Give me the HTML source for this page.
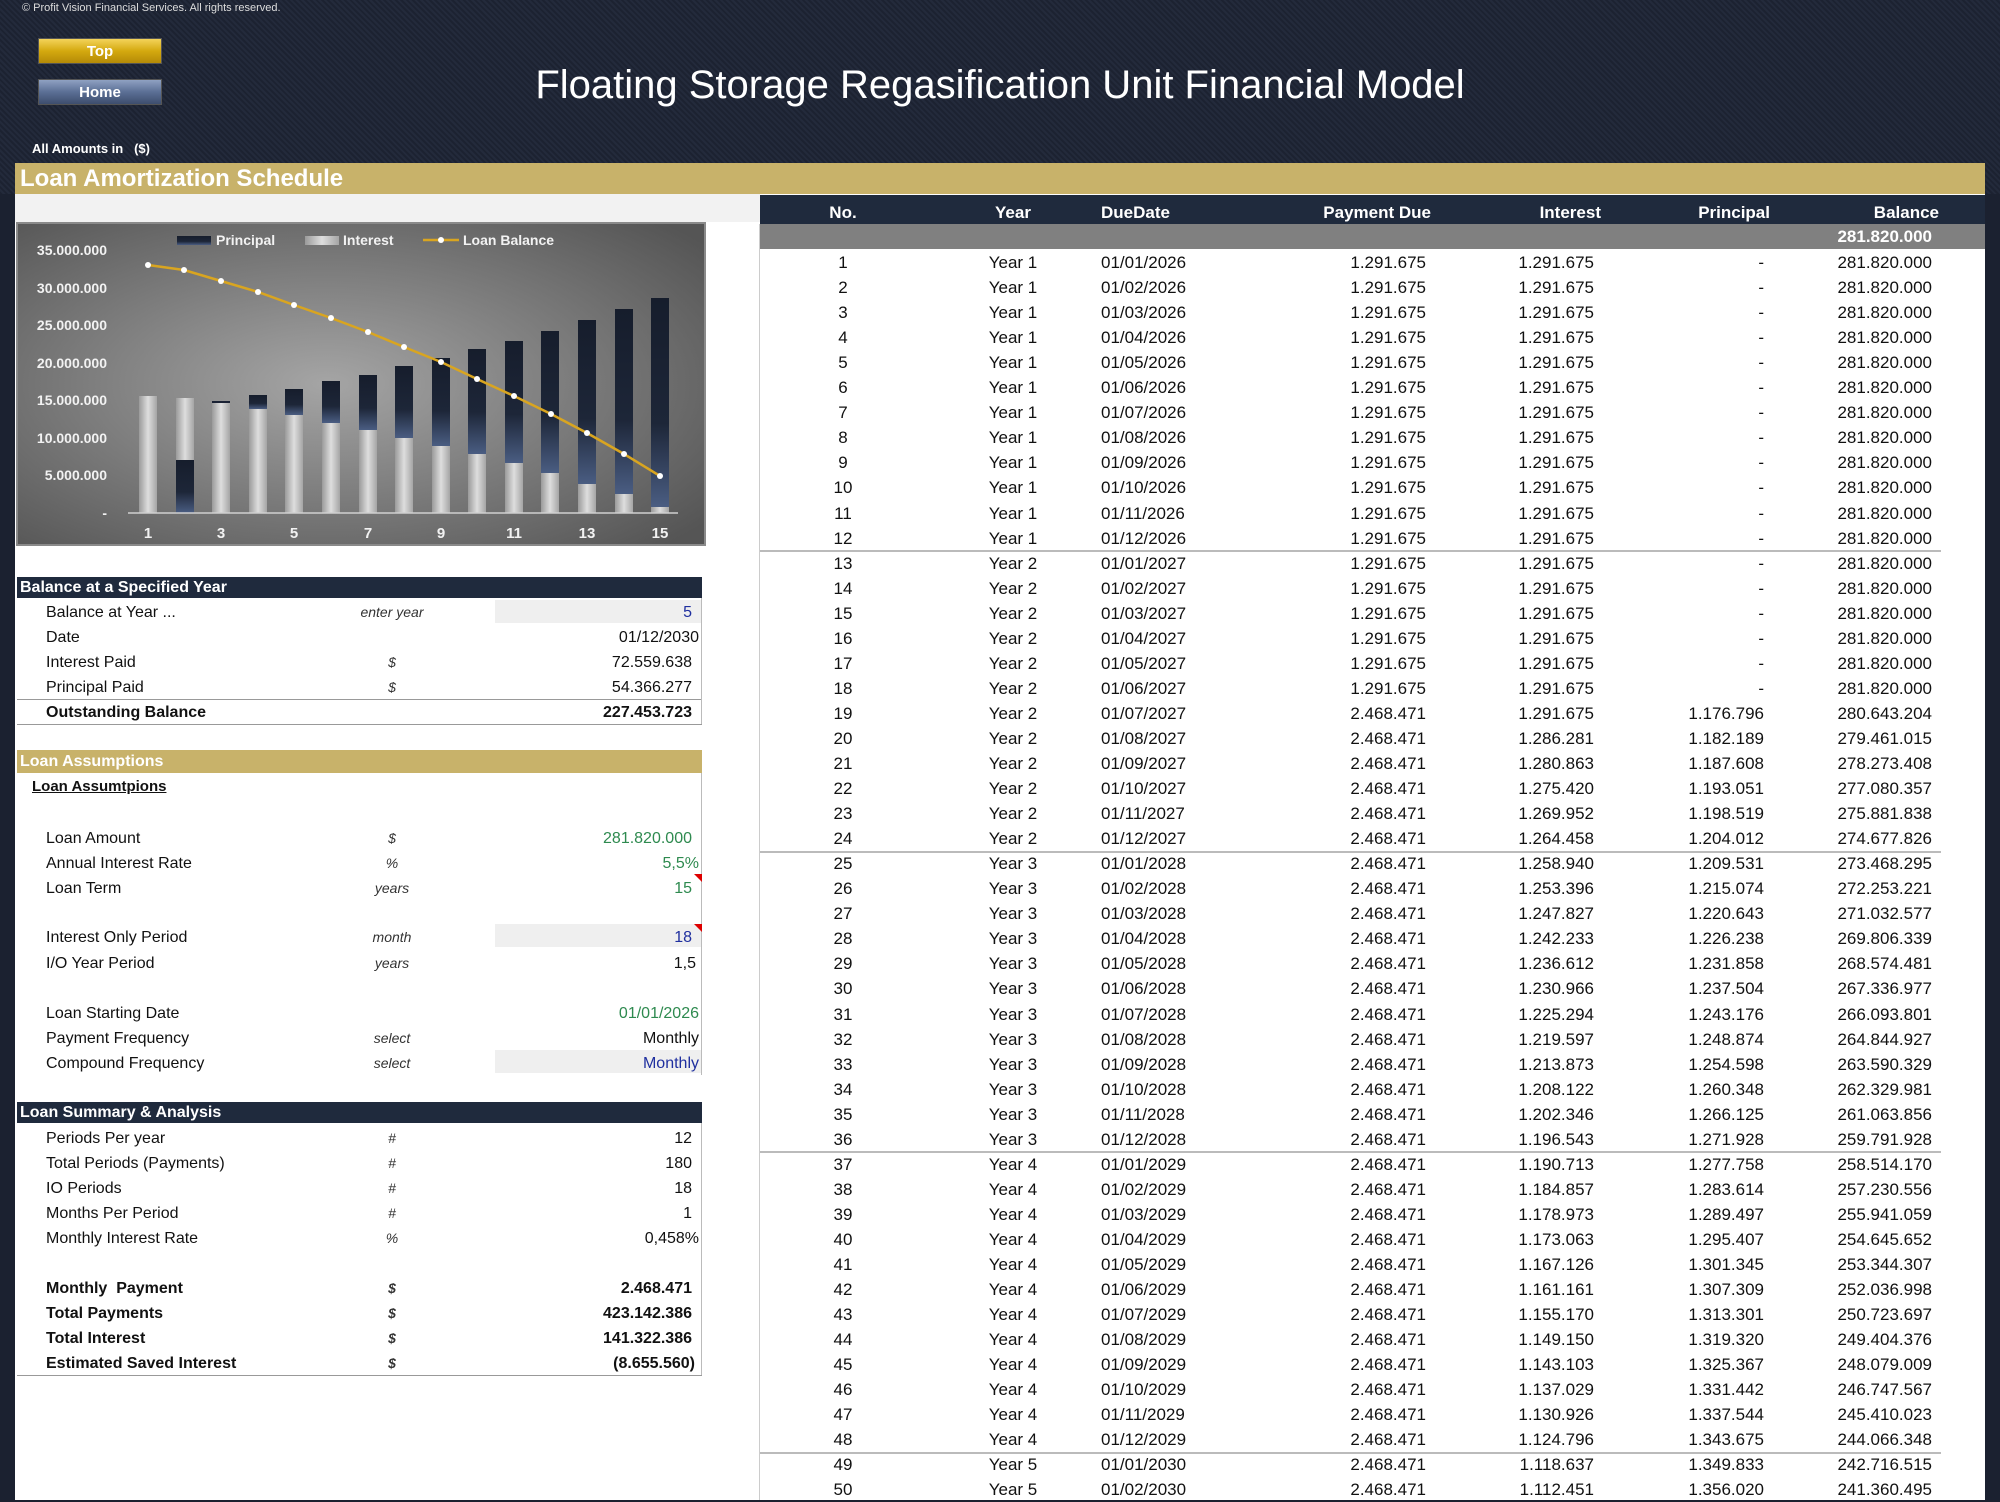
<!DOCTYPE html>
<html><head><meta charset="utf-8">
<style>
*{margin:0;padding:0;box-sizing:border-box}
body{width:2000px;height:1500px;position:relative;overflow:hidden;background:#1b2130;font-family:"Liberation Sans",sans-serif;}
.a{position:absolute;white-space:nowrap}
#bg{position:absolute;left:0;top:0;width:2000px;height:194px;background:repeating-linear-gradient(45deg,#1c2231 0 2px,#232a3b 2px 4px)}
.btn{position:absolute;left:38px;width:124px;height:26px;font-weight:bold;font-size:15px;color:#fff;text-align:center;line-height:26px;border:1px solid #555}
#white{position:absolute;left:15px;top:194px;width:1970px;height:1306px;background:#fff}
.row{position:absolute;left:760px;width:1180px;height:25.05px;font-size:17px;color:#111;line-height:25px}
.row span{position:absolute;top:0}
.n{left:43px;width:80px;text-align:center}
.y{left:203px;width:100px;text-align:center}
.d{left:341px}
.p{left:500px;width:166px;text-align:right}
.i{left:700px;width:134px;text-align:right}
.q{left:860px;width:144px;text-align:right}
.b{left:1020px;width:152px;text-align:right}
.sep{position:absolute;left:760px;width:1181px;height:2px;background:#bbb}
.lr{position:absolute;left:17px;width:685px;height:25px;font-size:16px;line-height:25px;color:#111}
.lr span{position:absolute;top:0}
.lb{left:29px}
.lm{left:330px;width:90px;text-align:center;font-style:italic;font-size:14px;color:#333}
.lv{right:10px;text-align:right}
.hd{position:absolute;left:17px;width:685px;font-size:16px;font-weight:bold;color:#fff;padding-left:3px}
.inp{position:absolute;left:495px;width:207px;height:23px;background:#efefef}
</style></head><body>
<div id="bg"></div>
<div class="a" style="left:22px;top:2px;font-size:11px;color:#ddd">© Profit Vision Financial Services. All rights reserved.</div>
<div class="btn" style="top:38px;background:linear-gradient(#f3d35a,#d4a90f 50%,#b48a07);color:#fff">Top</div>
<div class="btn" style="top:79px;background:linear-gradient(#8fa1c2,#5b6f95 50%,#3d4d6d);">Home</div>
<div class="a" style="left:0;width:2000px;top:63px;text-align:center;font-size:40px;color:#fff">Floating Storage Regasification Unit Financial Model</div>
<div class="a" style="left:32px;top:141px;font-size:13px;font-weight:bold;color:#fff">All Amounts in &nbsp;&nbsp;($)</div>
<div id="white"></div>
<div class="a" style="left:15px;top:163px;width:1970px;height:31px;background:#c8b26a;color:#fff;font-weight:bold;font-size:24px;line-height:31px;padding-left:5px">Loan Amortization Schedule</div>
<div class="a" style="left:15px;top:194px;width:745px;height:28px;background:#f2f2f2"></div>
<div class="a" style="left:760px;top:195px;width:1225px;height:29px;background:#1f2a3d"></div>
<div class="a" style="left:760px;top:224px;width:1225px;height:25px;background:#808080"></div>
<div class="a" style="left:759px;top:224px;width:1px;height:1276px;background:#ccc"></div>
<div class="row" style="top:200px;color:#fff;font-weight:bold"><span class="n">No.</span><span class="y">Year</span><span class="d">DueDate</span><span class="p" style="width:171px">Payment Due</span><span class="i" style="width:141px">Interest</span><span class="q" style="width:150px">Principal</span><span class="b" style="width:159px">Balance</span></div>
<div class="row" style="top:224px;color:#fff;font-weight:bold"><span class="b">281.820.000</span></div>

<div style="position:absolute;left:0;top:250px">
<div class="row" style="top:0px"><span class="n">1</span><span class="y">Year 1</span><span class="d">01/01/2026</span><span class="p">1.291.675</span><span class="i">1.291.675</span><span class="q">-</span><span class="b">281.820.000</span></div>
<div class="row" style="top:25.05px"><span class="n">2</span><span class="y">Year 1</span><span class="d">01/02/2026</span><span class="p">1.291.675</span><span class="i">1.291.675</span><span class="q">-</span><span class="b">281.820.000</span></div>
<div class="row" style="top:50.1px"><span class="n">3</span><span class="y">Year 1</span><span class="d">01/03/2026</span><span class="p">1.291.675</span><span class="i">1.291.675</span><span class="q">-</span><span class="b">281.820.000</span></div>
<div class="row" style="top:75.15px"><span class="n">4</span><span class="y">Year 1</span><span class="d">01/04/2026</span><span class="p">1.291.675</span><span class="i">1.291.675</span><span class="q">-</span><span class="b">281.820.000</span></div>
<div class="row" style="top:100.2px"><span class="n">5</span><span class="y">Year 1</span><span class="d">01/05/2026</span><span class="p">1.291.675</span><span class="i">1.291.675</span><span class="q">-</span><span class="b">281.820.000</span></div>
<div class="row" style="top:125.25px"><span class="n">6</span><span class="y">Year 1</span><span class="d">01/06/2026</span><span class="p">1.291.675</span><span class="i">1.291.675</span><span class="q">-</span><span class="b">281.820.000</span></div>
<div class="row" style="top:150.3px"><span class="n">7</span><span class="y">Year 1</span><span class="d">01/07/2026</span><span class="p">1.291.675</span><span class="i">1.291.675</span><span class="q">-</span><span class="b">281.820.000</span></div>
<div class="row" style="top:175.35px"><span class="n">8</span><span class="y">Year 1</span><span class="d">01/08/2026</span><span class="p">1.291.675</span><span class="i">1.291.675</span><span class="q">-</span><span class="b">281.820.000</span></div>
<div class="row" style="top:200.4px"><span class="n">9</span><span class="y">Year 1</span><span class="d">01/09/2026</span><span class="p">1.291.675</span><span class="i">1.291.675</span><span class="q">-</span><span class="b">281.820.000</span></div>
<div class="row" style="top:225.45px"><span class="n">10</span><span class="y">Year 1</span><span class="d">01/10/2026</span><span class="p">1.291.675</span><span class="i">1.291.675</span><span class="q">-</span><span class="b">281.820.000</span></div>
<div class="row" style="top:250.5px"><span class="n">11</span><span class="y">Year 1</span><span class="d">01/11/2026</span><span class="p">1.291.675</span><span class="i">1.291.675</span><span class="q">-</span><span class="b">281.820.000</span></div>
<div class="row" style="top:275.55px"><span class="n">12</span><span class="y">Year 1</span><span class="d">01/12/2026</span><span class="p">1.291.675</span><span class="i">1.291.675</span><span class="q">-</span><span class="b">281.820.000</span></div>
<div class="sep" style="top:300px"></div>
<div class="row" style="top:300.6px"><span class="n">13</span><span class="y">Year 2</span><span class="d">01/01/2027</span><span class="p">1.291.675</span><span class="i">1.291.675</span><span class="q">-</span><span class="b">281.820.000</span></div>
<div class="row" style="top:325.65px"><span class="n">14</span><span class="y">Year 2</span><span class="d">01/02/2027</span><span class="p">1.291.675</span><span class="i">1.291.675</span><span class="q">-</span><span class="b">281.820.000</span></div>
<div class="row" style="top:350.7px"><span class="n">15</span><span class="y">Year 2</span><span class="d">01/03/2027</span><span class="p">1.291.675</span><span class="i">1.291.675</span><span class="q">-</span><span class="b">281.820.000</span></div>
<div class="row" style="top:375.75px"><span class="n">16</span><span class="y">Year 2</span><span class="d">01/04/2027</span><span class="p">1.291.675</span><span class="i">1.291.675</span><span class="q">-</span><span class="b">281.820.000</span></div>
<div class="row" style="top:400.8px"><span class="n">17</span><span class="y">Year 2</span><span class="d">01/05/2027</span><span class="p">1.291.675</span><span class="i">1.291.675</span><span class="q">-</span><span class="b">281.820.000</span></div>
<div class="row" style="top:425.85px"><span class="n">18</span><span class="y">Year 2</span><span class="d">01/06/2027</span><span class="p">1.291.675</span><span class="i">1.291.675</span><span class="q">-</span><span class="b">281.820.000</span></div>
<div class="row" style="top:450.9px"><span class="n">19</span><span class="y">Year 2</span><span class="d">01/07/2027</span><span class="p">2.468.471</span><span class="i">1.291.675</span><span class="q">1.176.796</span><span class="b">280.643.204</span></div>
<div class="row" style="top:475.95px"><span class="n">20</span><span class="y">Year 2</span><span class="d">01/08/2027</span><span class="p">2.468.471</span><span class="i">1.286.281</span><span class="q">1.182.189</span><span class="b">279.461.015</span></div>
<div class="row" style="top:501px"><span class="n">21</span><span class="y">Year 2</span><span class="d">01/09/2027</span><span class="p">2.468.471</span><span class="i">1.280.863</span><span class="q">1.187.608</span><span class="b">278.273.408</span></div>
<div class="row" style="top:526.05px"><span class="n">22</span><span class="y">Year 2</span><span class="d">01/10/2027</span><span class="p">2.468.471</span><span class="i">1.275.420</span><span class="q">1.193.051</span><span class="b">277.080.357</span></div>
<div class="row" style="top:551.1px"><span class="n">23</span><span class="y">Year 2</span><span class="d">01/11/2027</span><span class="p">2.468.471</span><span class="i">1.269.952</span><span class="q">1.198.519</span><span class="b">275.881.838</span></div>
<div class="row" style="top:576.15px"><span class="n">24</span><span class="y">Year 2</span><span class="d">01/12/2027</span><span class="p">2.468.471</span><span class="i">1.264.458</span><span class="q">1.204.012</span><span class="b">274.677.826</span></div>
<div class="sep" style="top:600.6px"></div>
<div class="row" style="top:601.2px"><span class="n">25</span><span class="y">Year 3</span><span class="d">01/01/2028</span><span class="p">2.468.471</span><span class="i">1.258.940</span><span class="q">1.209.531</span><span class="b">273.468.295</span></div>
<div class="row" style="top:626.25px"><span class="n">26</span><span class="y">Year 3</span><span class="d">01/02/2028</span><span class="p">2.468.471</span><span class="i">1.253.396</span><span class="q">1.215.074</span><span class="b">272.253.221</span></div>
<div class="row" style="top:651.3px"><span class="n">27</span><span class="y">Year 3</span><span class="d">01/03/2028</span><span class="p">2.468.471</span><span class="i">1.247.827</span><span class="q">1.220.643</span><span class="b">271.032.577</span></div>
<div class="row" style="top:676.35px"><span class="n">28</span><span class="y">Year 3</span><span class="d">01/04/2028</span><span class="p">2.468.471</span><span class="i">1.242.233</span><span class="q">1.226.238</span><span class="b">269.806.339</span></div>
<div class="row" style="top:701.4px"><span class="n">29</span><span class="y">Year 3</span><span class="d">01/05/2028</span><span class="p">2.468.471</span><span class="i">1.236.612</span><span class="q">1.231.858</span><span class="b">268.574.481</span></div>
<div class="row" style="top:726.45px"><span class="n">30</span><span class="y">Year 3</span><span class="d">01/06/2028</span><span class="p">2.468.471</span><span class="i">1.230.966</span><span class="q">1.237.504</span><span class="b">267.336.977</span></div>
<div class="row" style="top:751.5px"><span class="n">31</span><span class="y">Year 3</span><span class="d">01/07/2028</span><span class="p">2.468.471</span><span class="i">1.225.294</span><span class="q">1.243.176</span><span class="b">266.093.801</span></div>
<div class="row" style="top:776.55px"><span class="n">32</span><span class="y">Year 3</span><span class="d">01/08/2028</span><span class="p">2.468.471</span><span class="i">1.219.597</span><span class="q">1.248.874</span><span class="b">264.844.927</span></div>
<div class="row" style="top:801.6px"><span class="n">33</span><span class="y">Year 3</span><span class="d">01/09/2028</span><span class="p">2.468.471</span><span class="i">1.213.873</span><span class="q">1.254.598</span><span class="b">263.590.329</span></div>
<div class="row" style="top:826.65px"><span class="n">34</span><span class="y">Year 3</span><span class="d">01/10/2028</span><span class="p">2.468.471</span><span class="i">1.208.122</span><span class="q">1.260.348</span><span class="b">262.329.981</span></div>
<div class="row" style="top:851.7px"><span class="n">35</span><span class="y">Year 3</span><span class="d">01/11/2028</span><span class="p">2.468.471</span><span class="i">1.202.346</span><span class="q">1.266.125</span><span class="b">261.063.856</span></div>
<div class="row" style="top:876.75px"><span class="n">36</span><span class="y">Year 3</span><span class="d">01/12/2028</span><span class="p">2.468.471</span><span class="i">1.196.543</span><span class="q">1.271.928</span><span class="b">259.791.928</span></div>
<div class="sep" style="top:901.2px"></div>
<div class="row" style="top:901.8px"><span class="n">37</span><span class="y">Year 4</span><span class="d">01/01/2029</span><span class="p">2.468.471</span><span class="i">1.190.713</span><span class="q">1.277.758</span><span class="b">258.514.170</span></div>
<div class="row" style="top:926.85px"><span class="n">38</span><span class="y">Year 4</span><span class="d">01/02/2029</span><span class="p">2.468.471</span><span class="i">1.184.857</span><span class="q">1.283.614</span><span class="b">257.230.556</span></div>
<div class="row" style="top:951.9px"><span class="n">39</span><span class="y">Year 4</span><span class="d">01/03/2029</span><span class="p">2.468.471</span><span class="i">1.178.973</span><span class="q">1.289.497</span><span class="b">255.941.059</span></div>
<div class="row" style="top:976.95px"><span class="n">40</span><span class="y">Year 4</span><span class="d">01/04/2029</span><span class="p">2.468.471</span><span class="i">1.173.063</span><span class="q">1.295.407</span><span class="b">254.645.652</span></div>
<div class="row" style="top:1002px"><span class="n">41</span><span class="y">Year 4</span><span class="d">01/05/2029</span><span class="p">2.468.471</span><span class="i">1.167.126</span><span class="q">1.301.345</span><span class="b">253.344.307</span></div>
<div class="row" style="top:1027.05px"><span class="n">42</span><span class="y">Year 4</span><span class="d">01/06/2029</span><span class="p">2.468.471</span><span class="i">1.161.161</span><span class="q">1.307.309</span><span class="b">252.036.998</span></div>
<div class="row" style="top:1052.1px"><span class="n">43</span><span class="y">Year 4</span><span class="d">01/07/2029</span><span class="p">2.468.471</span><span class="i">1.155.170</span><span class="q">1.313.301</span><span class="b">250.723.697</span></div>
<div class="row" style="top:1077.15px"><span class="n">44</span><span class="y">Year 4</span><span class="d">01/08/2029</span><span class="p">2.468.471</span><span class="i">1.149.150</span><span class="q">1.319.320</span><span class="b">249.404.376</span></div>
<div class="row" style="top:1102.2px"><span class="n">45</span><span class="y">Year 4</span><span class="d">01/09/2029</span><span class="p">2.468.471</span><span class="i">1.143.103</span><span class="q">1.325.367</span><span class="b">248.079.009</span></div>
<div class="row" style="top:1127.25px"><span class="n">46</span><span class="y">Year 4</span><span class="d">01/10/2029</span><span class="p">2.468.471</span><span class="i">1.137.029</span><span class="q">1.331.442</span><span class="b">246.747.567</span></div>
<div class="row" style="top:1152.3px"><span class="n">47</span><span class="y">Year 4</span><span class="d">01/11/2029</span><span class="p">2.468.471</span><span class="i">1.130.926</span><span class="q">1.337.544</span><span class="b">245.410.023</span></div>
<div class="row" style="top:1177.35px"><span class="n">48</span><span class="y">Year 4</span><span class="d">01/12/2029</span><span class="p">2.468.471</span><span class="i">1.124.796</span><span class="q">1.343.675</span><span class="b">244.066.348</span></div>
<div class="sep" style="top:1201.8px"></div>
<div class="row" style="top:1202.4px"><span class="n">49</span><span class="y">Year 5</span><span class="d">01/01/2030</span><span class="p">2.468.471</span><span class="i">1.118.637</span><span class="q">1.349.833</span><span class="b">242.716.515</span></div>
<div class="row" style="top:1227.45px"><span class="n">50</span><span class="y">Year 5</span><span class="d">01/02/2030</span><span class="p">2.468.471</span><span class="i">1.112.451</span><span class="q">1.356.020</span><span class="b">241.360.495</span></div>
</div>

<!-- chart -->
<svg style="position:absolute;left:0;top:0" width="720" height="560" font-family="Liberation Sans, sans-serif">
<defs>
<radialGradient id="cbg" cx="0.45" cy="0.5" r="0.7"><stop offset="0" stop-color="#a5a5a5"/><stop offset="1" stop-color="#555"/></radialGradient>
<linearGradient id="gd" x1="0" y1="0" x2="0" y2="1"><stop offset="0" stop-color="#161d2c"/><stop offset="0.6" stop-color="#1d2638"/><stop offset="1" stop-color="#4a5d82"/></linearGradient>
<linearGradient id="gl" x1="0" y1="0" x2="1" y2="0"><stop offset="0" stop-color="#9a9a9a"/><stop offset="0.5" stop-color="#dedede"/><stop offset="1" stop-color="#a5a5a5"/></linearGradient>
</defs>
<rect x="17" y="223" width="688" height="322" fill="url(#cbg)" stroke="#8a8a8a" stroke-width="2"/>
<g font-size="14" font-weight="bold" fill="#f2f2f2" text-anchor="end">
<text x="107" y="255">35.000.000</text><text x="107" y="293">30.000.000</text><text x="107" y="330">25.000.000</text><text x="107" y="368">20.000.000</text><text x="107" y="405">15.000.000</text><text x="107" y="443">10.000.000</text><text x="107" y="480">5.000.000</text><text x="107" y="518">-</text>
</g>
<g>
<rect x="139" y="396" width="18" height="117" fill="url(#gl)"/>
<rect x="176" y="460" width="18" height="53" fill="url(#gd)"/><rect x="176" y="398" width="18" height="62" fill="url(#gl)"/>
<rect x="212" y="402" width="18" height="111" fill="url(#gl)"/><rect x="212" y="401" width="18" height="2" fill="#1a2234"/>
<rect x="249" y="409" width="18" height="104" fill="url(#gl)"/><rect x="249" y="395" width="18" height="14" fill="url(#gd)"/>
<rect x="285" y="415" width="18" height="98" fill="url(#gl)"/><rect x="285" y="389" width="18" height="26" fill="url(#gd)"/>
<rect x="322" y="423" width="18" height="90" fill="url(#gl)"/><rect x="322" y="381" width="18" height="42" fill="url(#gd)"/>
<rect x="359" y="430" width="18" height="83" fill="url(#gl)"/><rect x="359" y="375" width="18" height="55" fill="url(#gd)"/>
<rect x="395" y="438" width="18" height="75" fill="url(#gl)"/><rect x="395" y="366" width="18" height="72" fill="url(#gd)"/>
<rect x="432" y="446" width="18" height="67" fill="url(#gl)"/><rect x="432" y="358" width="18" height="88" fill="url(#gd)"/>
<rect x="468" y="454" width="18" height="59" fill="url(#gl)"/><rect x="468" y="349" width="18" height="105" fill="url(#gd)"/>
<rect x="505" y="463" width="18" height="50" fill="url(#gl)"/><rect x="505" y="341" width="18" height="122" fill="url(#gd)"/>
<rect x="541" y="473" width="18" height="40" fill="url(#gl)"/><rect x="541" y="331" width="18" height="142" fill="url(#gd)"/>
<rect x="578" y="484" width="18" height="29" fill="url(#gl)"/><rect x="578" y="320" width="18" height="164" fill="url(#gd)"/>
<rect x="615" y="494" width="18" height="19" fill="url(#gl)"/><rect x="615" y="309" width="18" height="185" fill="url(#gd)"/>
<rect x="651" y="507" width="18" height="6" fill="url(#gl)"/><rect x="651" y="298" width="18" height="209" fill="url(#gd)"/>
</g>
<line x1="128" y1="513" x2="678" y2="513" stroke="#d0d0d0" stroke-width="1.5"/>
<polyline fill="none" stroke="#d9a520" stroke-width="2.5" points="148,265 184,270 221,281 258,292 294,305 331,318 368,332 404,347 441,362 477,379 514,396 551,414 587,433 624,454 660,476"/>
<g fill="#fff"><circle cx="148" cy="265" r="3"/><circle cx="184" cy="270" r="3"/><circle cx="221" cy="281" r="3"/><circle cx="258" cy="292" r="3"/><circle cx="294" cy="305" r="3"/><circle cx="331" cy="318" r="3"/><circle cx="368" cy="332" r="3"/><circle cx="404" cy="347" r="3"/><circle cx="441" cy="362" r="3"/><circle cx="477" cy="379" r="3"/><circle cx="514" cy="396" r="3"/><circle cx="551" cy="414" r="3"/><circle cx="587" cy="433" r="3"/><circle cx="624" cy="454" r="3"/><circle cx="660" cy="476" r="3"/></g>
<g font-size="15" font-weight="bold" fill="#f2f2f2" text-anchor="middle">
<text x="148" y="538">1</text><text x="221" y="538">3</text><text x="294" y="538">5</text><text x="368" y="538">7</text><text x="441" y="538">9</text><text x="514" y="538">11</text><text x="587" y="538">13</text><text x="660" y="538">15</text>
</g>
<rect x="177" y="236" width="34" height="9" fill="url(#gd)"/>
<rect x="305" y="236" width="34" height="9" fill="url(#gl)"/>
<line x1="423" y1="240" x2="459" y2="240" stroke="#d9a520" stroke-width="2.5"/><circle cx="441" cy="240" r="3" fill="#fff"/>
<g font-size="14" font-weight="bold" fill="#f2f2f2"><text x="216" y="245">Principal</text><text x="343" y="245">Interest</text><text x="463" y="245">Loan Balance</text></g>
</svg>

<!-- Balance at specified year -->
<div class="hd" style="top:577px;height:21px;background:#1f2a3d;line-height:21px">Balance at a Specified Year</div>
<div class="inp" style="top:600px"></div>
<div class="lr" style="top:600px"><span class="lb">Balance at Year ...</span><span class="lm">enter year</span><span class="lv" style="color:#1f2f9f">5</span></div>
<div class="lr" style="top:625px"><span class="lb">Date</span><span class="lv" style="right:3px">01/12/2030</span></div>
<div class="lr" style="top:650px"><span class="lb">Interest Paid</span><span class="lm">$</span><span class="lv">72.559.638</span></div>
<div class="lr" style="top:675px"><span class="lb">Principal Paid</span><span class="lm">$</span><span class="lv">54.366.277</span></div>
<div class="a" style="left:17px;top:699px;width:685px;height:1px;background:#999"></div>
<div class="lr" style="top:700px;font-weight:bold"><span class="lb">Outstanding Balance</span><span class="lv">227.453.723</span></div>
<div class="a" style="left:17px;top:724px;width:685px;height:1px;background:#999"></div>
<div class="a" style="left:701px;top:598px;width:1px;height:126px;background:#bbb"></div>

<!-- Loan assumptions -->
<div class="hd" style="top:750px;height:23px;background:#c8b26a;line-height:23px">Loan Assumptions</div>
<div class="a" style="left:32px;top:778px;font-size:15px;font-weight:bold;text-decoration:underline;color:#111">Loan Assumtpions</div>
<div class="lr" style="top:826px"><span class="lb">Loan Amount</span><span class="lm">$</span><span class="lv" style="color:#2e8a4f">281.820.000</span></div>
<div class="lr" style="top:851px"><span class="lb">Annual Interest Rate</span><span class="lm">%</span><span class="lv" style="right:3px;color:#2e8a4f">5,5%</span></div>
<div class="lr" style="top:876px"><span class="lb">Loan Term</span><span class="lm">years</span><span class="lv" style="color:#2e8a4f">15</span></div>
<div class="inp" style="top:924px"></div>
<div class="lr" style="top:925px"><span class="lb">Interest Only Period</span><span class="lm">month</span><span class="lv" style="color:#1f2f9f">18</span></div>
<div class="lr" style="top:951px"><span class="lb">I/O Year Period</span><span class="lm">years</span><span class="lv" style="right:6px">1,5</span></div>
<div class="lr" style="top:1001px"><span class="lb">Loan Starting Date</span><span class="lv" style="right:3px;color:#2e8a4f">01/01/2026</span></div>
<div class="lr" style="top:1026px"><span class="lb">Payment Frequency</span><span class="lm">select</span><span class="lv" style="right:3px">Monthly</span></div>
<div class="inp" style="top:1050px"></div>
<div class="lr" style="top:1051px"><span class="lb">Compound Frequency</span><span class="lm">select</span><span class="lv" style="right:3px;color:#1f2f9f">Monthly</span></div>
<div class="a" style="left:701px;top:773px;width:1px;height:302px;background:#bbb"></div>
<svg style="position:absolute;left:694px;top:874px" width="8" height="8"><polygon points="0,0 8,0 8,8" fill="#d00"/></svg>
<svg style="position:absolute;left:694px;top:924px" width="8" height="8"><polygon points="0,0 8,0 8,8" fill="#d00"/></svg>

<!-- Loan summary -->
<div class="hd" style="top:1102px;height:21px;background:#1f2a3d;line-height:21px">Loan Summary &amp; Analysis</div>
<div class="lr" style="top:1126px"><span class="lb">Periods Per year</span><span class="lm">#</span><span class="lv">12</span></div>
<div class="lr" style="top:1151px"><span class="lb">Total Periods (Payments)</span><span class="lm">#</span><span class="lv">180</span></div>
<div class="lr" style="top:1176px"><span class="lb">IO Periods</span><span class="lm">#</span><span class="lv">18</span></div>
<div class="lr" style="top:1201px"><span class="lb">Months Per Period</span><span class="lm">#</span><span class="lv">1</span></div>
<div class="lr" style="top:1226px"><span class="lb">Monthly Interest Rate</span><span class="lm">%</span><span class="lv" style="right:3px">0,458%</span></div>
<div class="lr" style="top:1276px;font-weight:bold"><span class="lb">Monthly &nbsp;Payment</span><span class="lm" style="font-weight:bold">$</span><span class="lv">2.468.471</span></div>
<div class="lr" style="top:1301px;font-weight:bold"><span class="lb">Total Payments</span><span class="lm" style="font-weight:bold">$</span><span class="lv">423.142.386</span></div>
<div class="lr" style="top:1326px;font-weight:bold"><span class="lb">Total Interest</span><span class="lm" style="font-weight:bold">$</span><span class="lv">141.322.386</span></div>
<div class="lr" style="top:1351px;font-weight:bold"><span class="lb">Estimated Saved Interest</span><span class="lm" style="font-weight:bold">$</span><span class="lv" style="right:7px">(8.655.560)</span></div>
<div class="a" style="left:17px;top:1375px;width:685px;height:1px;background:#999"></div>
<div class="a" style="left:701px;top:1123px;width:1px;height:252px;background:#bbb"></div>
</body></html>
